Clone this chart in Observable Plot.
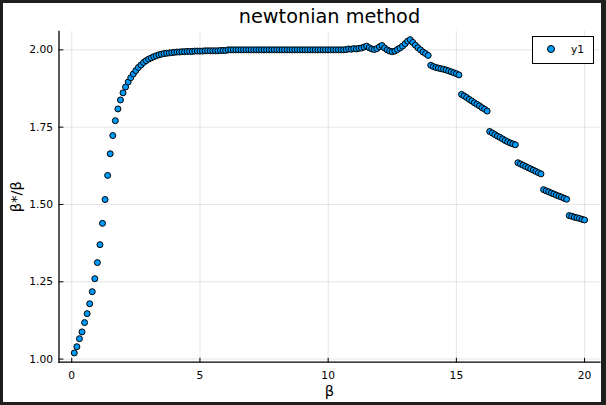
<!DOCTYPE html>
<html><head><meta charset="utf-8">
<script src="https://cdn.jsdelivr.net/npm/d3@7"></script>
<script src="https://cdn.jsdelivr.net/npm/@observablehq/plot@0.6"></script>
<style>
html,body{margin:0;padding:0;background:#fff;}
#wrap{position:relative;width:606px;height:405px;overflow:hidden;font-family:"DejaVu Sans",sans-serif;background:#fff;}
#wrap svg{position:absolute;left:0;top:0;}
#border{position:absolute;left:0;top:0;width:598px;height:399px;border-style:solid;border-color:#1e1e1e;border-width:3px 5px 3px 3px;pointer-events:none;}
#legend{position:absolute;left:532px;top:36px;width:60px;height:26px;border:1px solid #000;background:#fff;}
#legend .mk{position:absolute;left:14.4px;top:8.3px;width:8px;height:8px;box-sizing:border-box;border-radius:50%;background:#009afa;border:1.3px solid #000;}
#legend .lb{position:absolute;left:38px;top:0;line-height:26px;font-size:10.7px;color:#000;}
</style>
</head><body>
<div id="wrap"></div>
<script>
const beta = [
  0.1,0.2,0.3,0.4,0.5,0.6,0.7,0.8,0.9,1.0,
  1.1,1.2,1.3,1.4,1.5,1.6,1.7,1.8,1.9,2.0,
  2.1,2.2,2.3,2.4,2.5,2.6,2.7,2.8,2.9,3.0,
  3.1,3.2,3.3,3.4,3.5,3.6,3.7,3.8,3.9,4.0,
  4.1,4.2,4.3,4.4,4.5,4.6,4.7,4.8,4.9,5.0,
  5.1,5.2,5.3,5.4,5.5,5.6,5.7,5.8,5.9,6.0,
  6.1,6.2,6.3,6.4,6.5,6.6,6.7,6.8,6.9,7.0,
  7.1,7.2,7.3,7.4,7.5,7.6,7.7,7.8,7.9,8.0,
  8.1,8.2,8.3,8.4,8.5,8.6,8.7,8.8,8.9,9.0,
  9.1,9.2,9.3,9.4,9.5,9.6,9.7,9.8,9.9,10.0,
  10.1,10.2,10.3,10.4,10.5,10.6,10.7,10.8,10.9,11.0,
  11.1,11.2,11.3,11.4,11.5,11.6,11.7,11.8,11.9,12.0,
  12.1,12.2,12.3,12.4,12.5,12.6,12.7,12.8,12.9,13.0,
  13.1,13.2,13.3,13.4,13.5,13.6,13.7,13.8,13.9,14.0,
  14.1,14.2,14.3,14.4,14.5,14.6,14.7,14.8,14.9,15.0,
  15.1,15.2,15.3,15.4,15.5,15.6,15.7,15.8,15.9,16.0,
  16.1,16.2,16.3,16.4,16.5,16.6,16.7,16.8,16.9,17.0,
  17.1,17.2,17.3,17.4,17.5,17.6,17.7,17.8,17.9,18.0,
  18.1,18.2,18.3,18.4,18.5,18.6,18.7,18.8,18.9,19.0,
  19.1,19.2,19.3,19.4,19.5,19.6,19.7,19.8,19.9,20.0
];
const ratio = [
  1.020,1.040,1.066,1.088,1.118,1.147,1.179,1.218,1.260,1.312,
  1.370,1.439,1.516,1.594,1.664,1.723,1.771,1.809,1.838,1.861,
  1.880,1.896,1.910,1.922,1.933,1.943,1.951,1.959,1.965,1.970,
  1.974,1.978,1.981,1.984,1.986,1.988,1.989,1.990,1.991,1.992,
  1.993,1.993,1.994,1.994,1.995,1.995,1.995,1.996,1.996,1.996,
  1.996,1.997,1.997,1.997,1.997,1.997,1.997,1.998,1.998,1.998,
  2.000,2.000,2.000,2.000,2.000,2.000,2.000,2.000,2.000,2.000,
  2.000,2.000,2.000,2.000,2.000,2.000,2.000,2.000,2.000,2.000,
  2.000,2.000,2.000,2.000,2.000,2.000,2.000,2.000,2.000,2.000,
  2.000,2.000,2.000,2.000,2.000,2.000,2.000,2.000,2.000,2.000,
  2.000,2.000,2.000,2.000,2.000,2.000,2.001,2.003,2.002,2.004,
  2.003,2.005,2.006,2.009,2.012,2.007,2.003,2.001,2.004,2.010,
  2.014,2.006,2.000,1.996,1.994,1.996,2.001,2.006,2.012,2.020,
  2.028,2.033,2.024,2.015,2.007,2.000,1.993,1.988,1.982,1.950,
  1.946,1.943,1.941,1.939,1.937,1.935,1.932,1.929,1.926,1.923,
  1.919,1.856,1.851,1.846,1.840,1.835,1.829,1.824,1.819,1.813,
  1.808,1.802,1.736,1.731,1.726,1.721,1.717,1.712,1.707,1.703,
  1.699,1.696,1.693,1.635,1.631,1.627,1.623,1.619,1.615,1.611,
  1.607,1.603,1.599,1.548,1.544,1.541,1.537,1.534,1.530,1.527,
  1.524,1.520,1.517,1.464,1.462,1.459,1.457,1.455,1.452,1.450
];
const xTicks = [0, 5, 10, 15, 20];
const yTicks = [1.00, 1.25, 1.50, 1.75, 2.00];
const titleText = "newtonian method";
const xLabel = "β";
const yLabel = "β*/β";
const seriesName = "y1";

const data = beta.map((b, i) => ({beta: b, ratio: ratio[i]}));
const tickShape = {draw(ctx, l) { ctx.moveTo(0, 0); ctx.lineTo(0, -l); }};

const chart = Plot.plot({
  width: 606, height: 405,
  marginTop: 30.8, marginRight: 6.6, marginBottom: 43.3, marginLeft: 58.5,
  style: {fontFamily: "DejaVu Sans", background: "transparent", overflow: "visible", color: "black"},
  x: {domain: [-0.497, 20.597]},
  y: {domain: [0.99, 2.06]},
  marks: [
    Plot.gridX(xTicks, {stroke: "black", strokeOpacity: 0.1, strokeWidth: 1}),
    Plot.gridY(yTicks, {stroke: "black", strokeOpacity: 0.1, strokeWidth: 1}),
    Plot.axisX(xTicks, {tickSize: 0, tickPadding: 9, fontSize: 10.7, label: null, tickFormat: d3.format("d")}),
    Plot.axisY(yTicks, {tickSize: 0, tickPadding: 6, fontSize: 10.7, label: null, tickFormat: d3.format(".2f")}),
    Plot.vector(xTicks, {x: d => d, frameAnchor: "bottom", length: 4, rotate: 0, anchor: "start", shape: tickShape, stroke: "black", strokeWidth: 1}),
    Plot.vector(yTicks, {y: d => d, frameAnchor: "left", length: 4, rotate: 90, anchor: "start", shape: tickShape, stroke: "black", strokeWidth: 1}),
    Plot.frame({anchor: "left", stroke: "black", strokeWidth: 1.3}),
    Plot.frame({anchor: "bottom", stroke: "black", strokeWidth: 1.3}),
    Plot.dot(data, {x: "beta", y: "ratio", r: 3, fill: "#009afa", stroke: "black", strokeWidth: 1}),
    Plot.text([titleText], {frameAnchor: "top", dy: -14, lineAnchor: "middle", textAnchor: "middle", fontSize: 19.3, fill: "black"}),
    Plot.text([xLabel], {frameAnchor: "bottom", dy: 29, lineAnchor: "middle", textAnchor: "middle", fontSize: 14.7, fill: "black"}),
    Plot.text([yLabel], {frameAnchor: "left", dx: -43, rotate: -90, lineAnchor: "middle", textAnchor: "middle", fontSize: 14.7, fill: "black"})
  ]
});
const wrap = document.getElementById("wrap");
wrap.append(chart);
const legend = document.createElement("div");
legend.id = "legend";
legend.innerHTML = `<div class="mk"></div><div class="lb">${seriesName}</div>`;
wrap.append(legend);
const border = document.createElement("div");
border.id = "border";
wrap.append(border);
</script>
</body></html>
